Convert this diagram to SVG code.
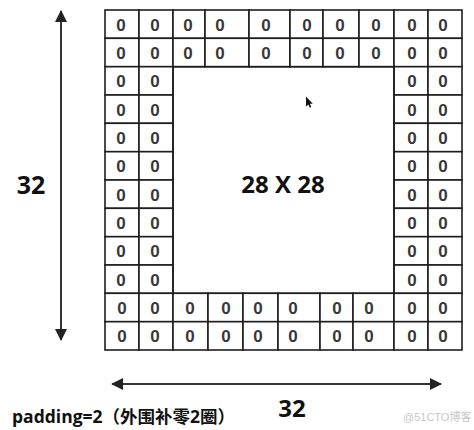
<svg xmlns="http://www.w3.org/2000/svg" width="474" height="430" viewBox="0 0 474 430">
<defs>
<style>
.c{fill:#fff;stroke:#1e1e1e;stroke-width:1.6}
.z{font-family:"Liberation Sans",Arial,sans-serif;font-size:17px;font-weight:bold;fill:#383838;text-anchor:middle}
.b{font-family:"Open Sans","Noto Sans",sans-serif;font-weight:bold;fill:#111;text-anchor:middle}
.arr{stroke:#333;stroke-width:2;fill:none}
</style>
<marker id="ah" viewBox="0 0 12 12" refX="11" refY="6" markerWidth="12" markerHeight="12" markerUnits="userSpaceOnUse" orient="auto-start-reverse">
<path d="M0,0 L12,6 L0,12 z" fill="#222"/>
</marker>
</defs>
<rect width="474" height="430" fill="#fff"/>

<g id="grid">
<g id="top-rows">
<rect class="c" x="105" y="10" width="34" height="28.3"/><rect class="c" x="139" y="10" width="34" height="28.3"/><rect class="c" x="173" y="10" width="32" height="28.3"/><rect class="c" x="205" y="10" width="44" height="28.3"/><rect class="c" x="249" y="10" width="41" height="28.3"/><rect class="c" x="290" y="10" width="33" height="28.3"/><rect class="c" x="323" y="10" width="36" height="28.3"/><rect class="c" x="359" y="10" width="35" height="28.3"/><rect class="c" x="394" y="10" width="34" height="28.3"/><rect class="c" x="428" y="10" width="34" height="28.3"/>
<rect class="c" x="105" y="38.3" width="34" height="28.4"/><rect class="c" x="139" y="38.3" width="34" height="28.4"/><rect class="c" x="173" y="38.3" width="32" height="28.4"/><rect class="c" x="205" y="38.3" width="44" height="28.4"/><rect class="c" x="249" y="38.3" width="41" height="28.4"/><rect class="c" x="290" y="38.3" width="33" height="28.4"/><rect class="c" x="323" y="38.3" width="36" height="28.4"/><rect class="c" x="359" y="38.3" width="35" height="28.4"/><rect class="c" x="394" y="38.3" width="34" height="28.4"/><rect class="c" x="428" y="38.3" width="34" height="28.4"/>
<g class="z">
<text x="121" y="30.5">0</text><text x="155" y="30.5">0</text><text x="188" y="30.5">0</text><text x="220" y="30.5">0</text><text x="266" y="30.5">0</text><text x="307" y="30.5">0</text><text x="340" y="30.5">0</text><text x="376" y="30.5">0</text><text x="412" y="30.5">0</text><text x="443" y="30.5">0</text>
<text x="121" y="58.8">0</text><text x="155" y="58.8">0</text><text x="188" y="58.8">0</text><text x="220" y="58.8">0</text><text x="266" y="58.8">0</text><text x="307" y="58.8">0</text><text x="340" y="58.8">0</text><text x="376" y="58.8">0</text><text x="412" y="58.8">0</text><text x="443" y="58.8">0</text>
</g>
</g>

<g id="side-rows">
<rect class="c" x="105" y="66.7" width="34" height="28.3"/><rect class="c" x="139" y="66.7" width="34" height="28.3"/><rect class="c" x="394" y="66.7" width="34" height="28.3"/><rect class="c" x="428" y="66.7" width="34" height="28.3"/>
<rect class="c" x="105" y="95" width="34" height="28.3"/><rect class="c" x="139" y="95" width="34" height="28.3"/><rect class="c" x="394" y="95" width="34" height="28.3"/><rect class="c" x="428" y="95" width="34" height="28.3"/>
<rect class="c" x="105" y="123.3" width="34" height="28.4"/><rect class="c" x="139" y="123.3" width="34" height="28.4"/><rect class="c" x="394" y="123.3" width="34" height="28.4"/><rect class="c" x="428" y="123.3" width="34" height="28.4"/>
<rect class="c" x="105" y="151.7" width="34" height="28.3"/><rect class="c" x="139" y="151.7" width="34" height="28.3"/><rect class="c" x="394" y="151.7" width="34" height="28.3"/><rect class="c" x="428" y="151.7" width="34" height="28.3"/>
<rect class="c" x="105" y="180" width="34" height="28.3"/><rect class="c" x="139" y="180" width="34" height="28.3"/><rect class="c" x="394" y="180" width="34" height="28.3"/><rect class="c" x="428" y="180" width="34" height="28.3"/>
<rect class="c" x="105" y="208.3" width="34" height="28.4"/><rect class="c" x="139" y="208.3" width="34" height="28.4"/><rect class="c" x="394" y="208.3" width="34" height="28.4"/><rect class="c" x="428" y="208.3" width="34" height="28.4"/>
<rect class="c" x="105" y="236.7" width="34" height="28.3"/><rect class="c" x="139" y="236.7" width="34" height="28.3"/><rect class="c" x="394" y="236.7" width="34" height="28.3"/><rect class="c" x="428" y="236.7" width="34" height="28.3"/>
<rect class="c" x="105" y="265" width="34" height="28.3"/><rect class="c" x="139" y="265" width="34" height="28.3"/><rect class="c" x="394" y="265" width="34" height="28.3"/><rect class="c" x="428" y="265" width="34" height="28.3"/>
<g class="z">
<text x="121" y="87.3">0</text><text x="155" y="87.3">0</text><text x="412" y="87.3">0</text><text x="443" y="87.3">0</text>
<text x="121" y="115.6">0</text><text x="155" y="115.6">0</text><text x="412" y="115.6">0</text><text x="443" y="115.6">0</text>
<text x="121" y="144">0</text><text x="155" y="144">0</text><text x="412" y="144">0</text><text x="443" y="144">0</text>
<text x="121" y="172.3">0</text><text x="155" y="172.3">0</text><text x="412" y="172.3">0</text><text x="443" y="172.3">0</text>
<text x="121" y="200.6">0</text><text x="155" y="200.6">0</text><text x="412" y="200.6">0</text><text x="443" y="200.6">0</text>
<text x="121" y="229">0</text><text x="155" y="229">0</text><text x="412" y="229">0</text><text x="443" y="229">0</text>
<text x="121" y="257.3">0</text><text x="155" y="257.3">0</text><text x="412" y="257.3">0</text><text x="443" y="257.3">0</text>
<text x="121" y="285.6">0</text><text x="155" y="285.6">0</text><text x="412" y="285.6">0</text><text x="443" y="285.6">0</text>
</g>
</g>

<g id="inner">
<rect x="173" y="66.7" width="221" height="226.6" fill="none" stroke="#1e1e1e" stroke-width="1.6"/>
<text class="b" x="283" y="193" font-size="24">28 X 28</text>
<path d="M306,96.5 L306,106.5 L308.3,104.4 L309.8,107.8 L311.3,107.1 L309.8,103.8 L312.8,103.8 Z" fill="#111"/>
</g>

<g id="bottom-rows">
<rect class="c" x="105" y="293.3" width="34" height="28.4"/><rect class="c" x="139" y="293.3" width="34" height="28.4"/><rect class="c" x="173" y="293.3" width="35" height="28.4"/><rect class="c" x="208" y="293.3" width="35" height="28.4"/><rect class="c" x="243" y="293.3" width="35" height="28.4"/><rect class="c" x="278" y="293.3" width="42" height="28.4"/><rect class="c" x="320" y="293.3" width="33" height="28.4"/><rect class="c" x="353" y="293.3" width="41" height="28.4"/><rect class="c" x="394" y="293.3" width="34" height="28.4"/><rect class="c" x="428" y="293.3" width="34" height="28.4"/>
<rect class="c" x="105" y="321.7" width="34" height="28.3"/><rect class="c" x="139" y="321.7" width="34" height="28.3"/><rect class="c" x="173" y="321.7" width="35" height="28.3"/><rect class="c" x="208" y="321.7" width="35" height="28.3"/><rect class="c" x="243" y="321.7" width="35" height="28.3"/><rect class="c" x="278" y="321.7" width="42" height="28.3"/><rect class="c" x="320" y="321.7" width="33" height="28.3"/><rect class="c" x="353" y="321.7" width="41" height="28.3"/><rect class="c" x="394" y="321.7" width="34" height="28.3"/><rect class="c" x="428" y="321.7" width="34" height="28.3"/>
<g class="z">
<text x="122" y="314">0</text><text x="155" y="314">0</text><text x="190" y="314">0</text><text x="226" y="314">0</text><text x="258" y="314">0</text><text x="293" y="314">0</text><text x="337" y="314">0</text><text x="369" y="314">0</text><text x="412" y="314">0</text><text x="443" y="314">0</text>
<text x="122" y="342.3">0</text><text x="155" y="342.3">0</text><text x="190" y="342.3">0</text><text x="226" y="342.3">0</text><text x="258" y="342.3">0</text><text x="293" y="342.3">0</text><text x="337" y="342.3">0</text><text x="369" y="342.3">0</text><text x="412" y="342.3">0</text><text x="443" y="342.3">0</text>
</g>
</g>
</g>

<g id="connectors">
<line class="arr" x1="61" y1="11" x2="61" y2="340" marker-start="url(#ah)" marker-end="url(#ah)"/>
<line class="arr" x1="112" y1="384" x2="441" y2="384" marker-start="url(#ah)" marker-end="url(#ah)"/>
</g>

<g id="labels">
<text class="b" x="31" y="194" font-size="25">32</text>
<text class="b" x="292" y="417" font-size="24">32</text>
<text x="12" y="423" font-family="'Open Sans','Noto Sans CJK SC',sans-serif" font-weight="bold" font-size="17.5" fill="#111">padding=2（外围补零2圈）</text>
<text x="403" y="421" font-family="'Liberation Sans','Noto Sans CJK SC',sans-serif" font-size="11" fill="#c8c8c8">@51CTO博客</text>
</g>
</svg>
